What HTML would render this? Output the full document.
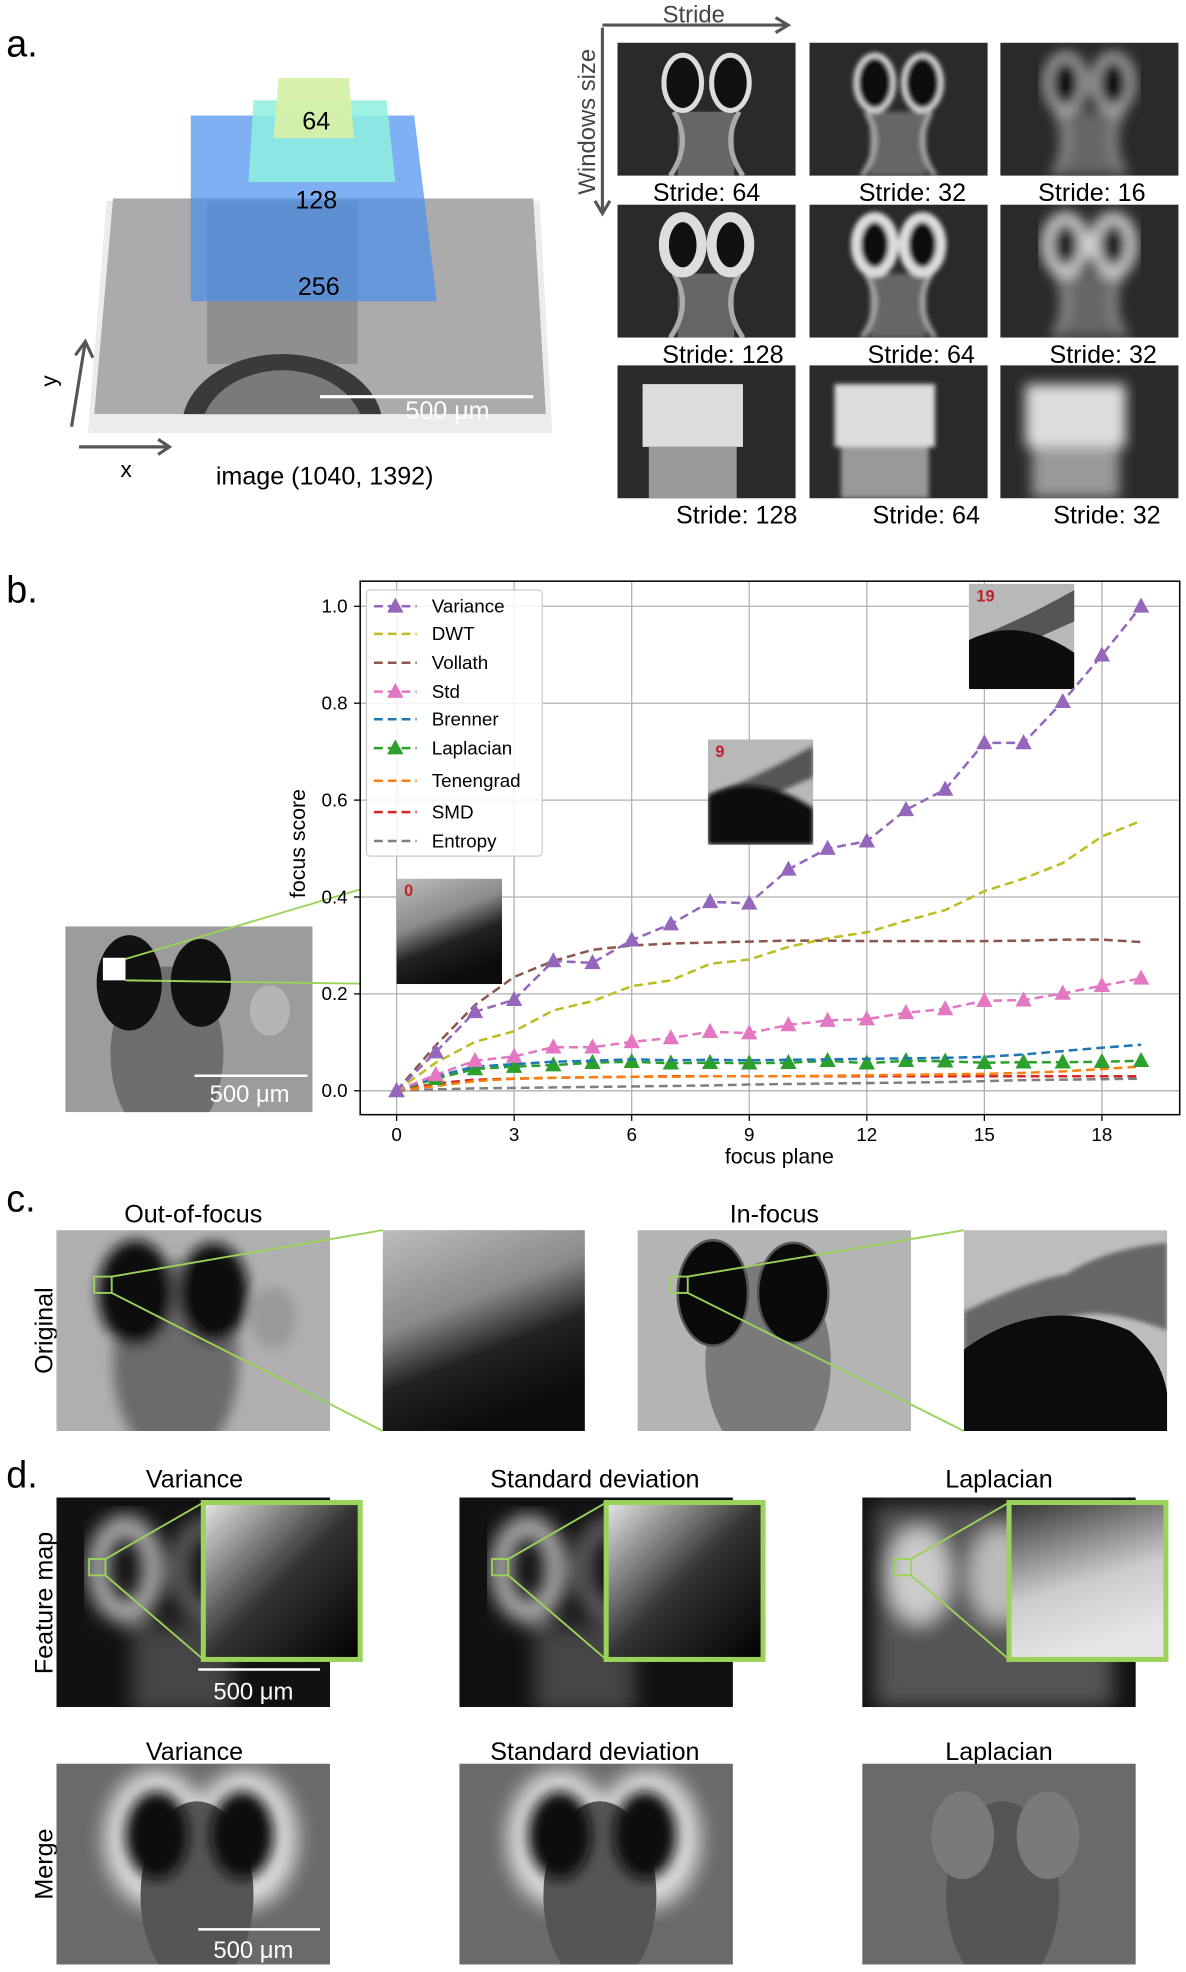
<!DOCTYPE html>
<html><head><meta charset="utf-8">
<style>
html,body{margin:0;padding:0;background:#fff;}
svg{display:block;font-family:"Liberation Sans",sans-serif;}
</style></head>
<body>
<svg id="fig" width="1186" height="1972" viewBox="0 0 945 1571" preserveAspectRatio="none" xmlns="http://www.w3.org/2000/svg">
<defs id="defs">
<filter id="b2"><feGaussianBlur stdDeviation="2"/></filter>
<filter id="b5"><feGaussianBlur stdDeviation="5"/></filter>
<filter id="b8"><feGaussianBlur stdDeviation="8"/></filter>
<linearGradient id="zoomOut" x1="0" y1="0" x2="0.4" y2="1"><stop offset="0" stop-color="#bdbdbd"/><stop offset="0.45" stop-color="#8a8a8a"/><stop offset="0.7" stop-color="#222"/><stop offset="1" stop-color="#0c0c0c"/></linearGradient>
<linearGradient id="pix" x1="0" y1="0" x2="1" y2="1"><stop offset="0" stop-color="#e8e8e8"/><stop offset="0.5" stop-color="#333"/><stop offset="1" stop-color="#000"/></linearGradient>
<linearGradient id="pixL" x1="0" y1="0" x2="0.3" y2="1"><stop offset="0" stop-color="#333"/><stop offset="0.6" stop-color="#ccc"/><stop offset="1" stop-color="#e6e6e6"/></linearGradient>
<clipPath id="cSlab"><polygon points="90,158 425,158 435,330 75,330"/></clipPath>
<clipPath id="cThumb"><rect x="52" y="738" width="197" height="148"/></clipPath>
<clipPath id="cOut"><rect x="45" y="980" width="218" height="160"/></clipPath>
<clipPath id="cIn"><rect x="508" y="980" width="218" height="160"/></clipPath>
<clipPath id="cInZ"><rect x="768" y="980" width="162" height="160"/></clipPath>
</defs>

<!-- ===== Panel a ===== -->
<text x="5" y="45" font-size="30">a.</text>
<g>
<polygon points="85,160 430,160 440,345 70,345" fill="#ececec"/>
<g clip-path="url(#cSlab)">
<polygon points="90,158 425,158 435,330 75,330" fill="#ababab"/>
<rect x="165" y="160" width="120" height="130" fill="#8f8f8f"/>
<ellipse cx="225" cy="340" rx="80" ry="58" fill="#3a3a3a"/>
<ellipse cx="225" cy="345" rx="65" ry="50" fill="#7a7a7a"/>
</g>
<line x1="255" y1="316" x2="425" y2="316" stroke="#fff" stroke-width="2.5"/>
<text x="323" y="334" font-size="20" fill="#fff">500 μm</text>
</g>
<polygon points="152,92 330,92 348,240 152,240" fill="#4a8ef0" opacity="0.7"/>
<polygon points="202,80 308,80 315,145 198,145" fill="#8ef0de" opacity="0.85"/>
<polygon points="222,62 278,62 282,110 218,110" fill="#d6f0a8" opacity="0.95"/>
<text x="252" y="103" font-size="20" text-anchor="middle">64</text>
<text x="252" y="166" font-size="20" text-anchor="middle">128</text>
<text x="254" y="235" font-size="20" text-anchor="middle">256</text>
<g stroke="#555" stroke-width="2.5" fill="none">
<path d="M57,340 L68,272 M60,283 L68,272 L74,285"/>
<path d="M63,356 L135,356 M126,350 L135,356 L126,362"/>
</g>
<text x="32" y="305" font-size="18" transform="rotate(-90 40 300)">y</text>
<text x="96" y="380" font-size="18">x</text>
<text x="172" y="386" font-size="20">image (1040, 1392)</text>

<g stroke="#555" stroke-width="2.5" fill="none">
<path d="M480,22 L480,170 M474,160 L480,170 L486,160"/>
<path d="M480,20 L628,20 M618,14 L628,20 L618,26"/>
</g>
<text x="528" y="18" font-size="19" fill="#444">Stride</text>
<text x="474" y="155" font-size="19" fill="#444" transform="rotate(-90 474 155)">Windows size</text>

<g id="grid9"></g>

<!-- ===== Panel b ===== -->
<text x="5" y="480" font-size="30">b.</text>
<g>
<g clip-path="url(#cThumb)">
<rect x="52" y="738" width="197" height="148" fill="#9c9c9c"/>
<ellipse cx="133" cy="840" rx="45" ry="70" fill="#6e6e6e"/>
<ellipse cx="103" cy="783" rx="26" ry="38" fill="#111"/>
<ellipse cx="160" cy="783" rx="24" ry="35" fill="#111"/>
<ellipse cx="215" cy="805" rx="16" ry="20" fill="#b5b5b5"/>
</g>
<rect x="82" y="763" width="18" height="18" fill="#fff"/>
<line x1="155" y1="857" x2="245" y2="857" stroke="#fff" stroke-width="2"/>
<text x="167" y="878" font-size="19" fill="#fff">500 μm</text>
</g>
<g stroke="#9bd35a" stroke-width="1.5">
<line x1="100" y1="764" x2="316" y2="700"/><line x1="100" y1="781" x2="316" y2="784"/>
</g>
<g id="chart"></g>

<!-- ===== Panel c ===== -->
<text x="5" y="965" font-size="30">c.</text>
<text x="154" y="974" font-size="20" text-anchor="middle">Out-of-focus</text>
<text x="617" y="974" font-size="20" text-anchor="middle">In-focus</text>
<text x="42" y="1060" font-size="20" transform="rotate(-90 42 1060)" text-anchor="middle">Original</text>
<g clip-path="url(#cOut)">
<rect x="45" y="980" width="218" height="160" fill="#b0b0b0"/>
<g filter="url(#b5)"><ellipse cx="140" cy="1085" rx="50" ry="80" fill="#6a6a6a"/>
<ellipse cx="108" cy="1030" rx="30" ry="42" fill="#0e0e0e"/><ellipse cx="170" cy="1030" rx="28" ry="40" fill="#0e0e0e"/>
<ellipse cx="218" cy="1050" rx="18" ry="25" fill="#999"/></g>
</g>
<rect x="305" y="980" width="161" height="160" fill="url(#zoomOut)"/>
<g clip-path="url(#cIn)">
<rect x="508" y="980" width="218" height="160" fill="#b4b4b4"/>
<ellipse cx="612" cy="1085" rx="50" ry="80" fill="#7a7a7a"/>
<ellipse cx="568" cy="1030" rx="28" ry="42" fill="#0a0a0a" stroke="#555" stroke-width="2"/><ellipse cx="632" cy="1030" rx="28" ry="40" fill="#0a0a0a" stroke="#555" stroke-width="2"/>
</g>
<g clip-path="url(#cInZ)">
<rect x="768" y="980" width="162" height="160" fill="#bdbdbd"/>
<path d="M768,1045 Q820,1020 850,1015 Q880,995 930,990 L930,1060 Q880,1040 850,1050 Q800,1060 768,1080Z" fill="#666" filter="url(#b2)"/>
<path d="M768,1140 L768,1075 Q830,1030 900,1060 Q925,1080 930,1110 L930,1140Z" fill="#0c0c0c"/>
</g>
<g fill="none" stroke="#9bd35a" stroke-width="1.5">
<rect x="75" y="1017" width="14" height="13"/><line x1="89" y1="1017" x2="305" y2="980"/><line x1="89" y1="1030" x2="305" y2="1140"/>
<rect x="534" y="1017" width="14" height="13"/><line x1="548" y1="1017" x2="768" y2="980"/><line x1="548" y1="1030" x2="768" y2="1140"/>
</g>

<!-- ===== Panel d ===== -->
<text x="5" y="1185" font-size="30">d.</text>
<g font-size="20" text-anchor="middle">
<text x="155" y="1185">Variance</text><text x="474" y="1185">Standard deviation</text><text x="796" y="1185">Laplacian</text>
<text x="155" y="1402">Variance</text><text x="474" y="1402">Standard deviation</text><text x="796" y="1402">Laplacian</text>
</g>
<text x="42" y="1277" font-size="20" transform="rotate(-90 42 1277)" text-anchor="middle">Feature map</text>
<text x="42" y="1485" font-size="20" transform="rotate(-90 42 1485)" text-anchor="middle">Merge</text>

<g id="fmaps"></g>
<g id="merges"></g>
</svg>

<script>
// ----- Chart data -----
const planes = [0,1,2,3,4,5,6,7,8,9,10,11,12,13,14,15,16,17,18,19];
const variance = [0,0.08,0.163,0.188,0.268,0.264,0.311,0.344,0.39,0.387,0.457,0.5,0.515,0.58,0.622,0.718,0.718,0.803,0.899,1.0];
const dwt = [0,0.058,0.101,0.123,0.166,0.185,0.216,0.228,0.262,0.271,0.297,0.315,0.327,0.351,0.373,0.412,0.438,0.47,0.525,0.557];
const vollath = [0,0.094,0.177,0.235,0.268,0.291,0.3,0.304,0.306,0.308,0.31,0.31,0.309,0.309,0.309,0.309,0.31,0.312,0.312,0.307];
const stdv = [0,0.033,0.062,0.071,0.09,0.09,0.101,0.109,0.122,0.119,0.136,0.145,0.148,0.161,0.169,0.186,0.187,0.201,0.217,0.232];
const brenner = [0,0.03,0.05,0.055,0.06,0.062,0.065,0.063,0.064,0.063,0.064,0.065,0.066,0.067,0.068,0.07,0.075,0.082,0.089,0.095];
const laplacian = [0,0.025,0.045,0.05,0.053,0.058,0.06,0.057,0.058,0.057,0.058,0.062,0.057,0.062,0.061,0.058,0.059,0.059,0.06,0.062];
const tenengrad = [0,0.01,0.02,0.025,0.027,0.028,0.029,0.029,0.03,0.03,0.03,0.031,0.032,0.033,0.034,0.035,0.037,0.04,0.045,0.05];
const smd = [0,0.015,0.023,0.025,0.027,0.028,0.029,0.03,0.03,0.03,0.03,0.03,0.03,0.03,0.03,0.03,0.03,0.03,0.03,0.03];
const entropy = [0,0.003,0.005,0.006,0.007,0.008,0.009,0.01,0.011,0.013,0.014,0.015,0.016,0.017,0.018,0.02,0.022,0.023,0.024,0.025];
const seriesNames = ["Variance","DWT","Vollath","Std","Brenner","Laplacian","Tenengrad","SMD","Entropy"];
const xTicks = [0,3,6,9,12,15,18];
const yTicks = [0,0.2,0.4,0.6,0.8,1.0];
const yTickLabels = ["0.0","0.2","0.4","0.6","0.8","1.0"];

const NS="http://www.w3.org/2000/svg";
function mk(tag,attrs,parent){const e=document.createElementNS(NS,tag);for(const k in attrs)e.setAttribute(k,attrs[k]);parent.appendChild(e);return e;}
const defs=document.getElementById('defs');
let clipN=0;
function clipRect(x,y,w,h){const id='cr'+(clipN++);const c=mk('clipPath',{id:id},defs);mk('rect',{x:x,y:y,width:w,height:h},c);return 'url(#'+id+')';}
const X0=287,X1=940,Y0=463,Y1=888;
function xs(v){return 316+v*(878-316)/18;}
function ys(v){return 869-v*386;}
const chart=document.getElementById('chart');
mk('rect',{x:X0,y:Y0,width:X1-X0,height:Y1-Y0,fill:'#fff'},chart);
xTicks.forEach(t=>{
  const g=mk('line',{x1:xs(t),x2:xs(t),y1:Y0,y2:Y1,stroke:'#b0b0b0','stroke-width':1},chart);
  
  
  mk('line',{x1:xs(t),x2:xs(t),y1:Y1,y2:Y1+5,stroke:'#000'},chart);
  const tx=mk('text',{x:xs(t),y:Y1+21,'font-size':15,'text-anchor':'middle'},chart);tx.textContent=t;
  
  
});
yTicks.forEach((t,i)=>{
  const g=mk('line',{x1:X0,x2:X1,y1:ys(t),y2:ys(t),stroke:'#b0b0b0','stroke-width':1},chart);
  
  
  mk('line',{x1:X0-5,x2:X0,y1:ys(t),y2:ys(t),stroke:'#000'},chart);
  const tx=mk('text',{x:X0-10,y:ys(t)+5,'font-size':15,'text-anchor':'end'},chart);tx.textContent=yTickLabels[i];
  
  
});
const xl=mk('text',{x:621,y:927,'font-size':17,'text-anchor':'middle'},chart);xl.textContent='focus plane';


const yl=mk('text',{x:243,y:672,'font-size':17,'text-anchor':'middle',transform:'rotate(-90 243 672)'},chart);yl.textContent='focus score';



function inset(x,y,label,kind){
  const g=mk('g',{},chart);
  
  
  const gc=mk('g',{'clip-path':clipRect(x,y,84,84)},g);
  if(kind===0){mk('rect',{x:x,y:y,width:84,height:84,fill:'url(#zoomOut)'},gc);}
  else{mk('rect',{x:x,y:y,width:84,height:84,fill:'#b8b8b8'},gc);
   mk('path',{d:`M${x},${y+45} Q${x+40},${y+30} ${x+84},${y+5} L${x+84},${y+30} Q${x+50},${y+45} ${x+30},${y+55}Z`,fill:'#555',filter:kind===1?'url(#b2)':''},gc);
   mk('path',{d:`M${x},${y+84} L${x},${y+45} Q${x+40},${y+25} ${x+84},${y+55} L${x+84},${y+84}Z`,fill:'#0d0d0d',filter:kind===1?'url(#b2)':''},gc);}
  const t=mk('text',{x:x+6,y:y+14,'font-size':13,'font-weight':'bold',fill:'#c0202a'},g);t.textContent=label;
}
inset(316,700,'0',0);inset(564,589,'9',1);inset(772,465,'19',2);

const series=[[variance,'#9467bd',true],[dwt,'#bcbd22',false],[vollath,'#8c564b',false],[stdv,'#e377c2',true],[brenner,'#1f77b4',false],[laplacian,'#2ca02c',true],[tenengrad,'#ff7f0e',false],[smd,'#d62728',false],[entropy,'#7f7f7f',false]];
for(let s=series.length-1;s>=0;s--){
  const [vals,col,markers]=series[s];
  const pts=planes.map((p,i)=>xs(p)+','+ys(vals[i])).join(' ');
  const pl=mk('polyline',{points:pts,fill:'none',stroke:col,'stroke-width':2,'stroke-dasharray':'7,4'},chart);
  
  
  if(markers){planes.forEach((p,i)=>{const cx=xs(p),cy=ys(vals[i]);
    const m=mk('polygon',{points:`${cx},${cy-7} ${cx-6.5},${cy+5} ${cx+6.5},${cy+5}`,fill:col},chart);
    
    });}
}
mk('rect',{x:X0,y:Y0,width:X1-X0,height:Y1-Y0,fill:'none',stroke:'#000','stroke-width':1.2},chart);
const lg=mk('g',{},chart);


mk('rect',{x:292,y:470,width:140,height:212,rx:3,fill:'#fff','fill-opacity':0.85,stroke:'#ccc'},lg);
const legY=[483,505,528,551,573,596,622,647,670];
series.forEach((s,i)=>{
  const y=legY[i];
  mk('line',{x1:298,x2:332,y1:y,y2:y,stroke:s[1],'stroke-width':2,'stroke-dasharray':'7,4'},lg);
  if(s[2])mk('polygon',{points:`315,${y-7} 308.5,${y+5} 321.5,${y+5}`,fill:s[1]},lg);
  const t=mk('text',{x:344,y:y+5,'font-size':15},lg);t.textContent=seriesNames[i];
  
  
});

// ----- feature grid panel a -----
const grid=document.getElementById('grid9');
const cols=[492,645,797], rows=[34,163,291];
const labels=[["Stride: 64","Stride: 32","Stride: 16"],["Stride: 128","Stride: 64","Stride: 32"],["Stride: 128","Stride: 64","Stride: 32"]];
const labX=[[563,727,870],[576,734,879],[587,738,882]];
const labY=[160,289,417];
rows.forEach((ry,r)=>cols.forEach((cx,c)=>{
  const g=mk('g',{'clip-path':clipRect(cx,ry,142,106)},grid);
  
  
  mk('rect',{x:cx,y:ry,width:142,height:106,fill:'#2a2a2a'},g);
  const f=(c===0?'':(c===1?'url(#b2)':'url(#b5)'));
  const gg=mk('g',{filter:f},g);
  if(r<2){
    const sw=r===0?4:8;
    mk('rect',{x:cx+48,y:ry+55,width:45,height:51,fill:'#666'},gg);
    mk('path',{d:`M${cx+45},${ry+55} Q${cx+60},${ry+80} ${cx+42},${ry+106} M${cx+97},${ry+55} Q${cx+82},${ry+80} ${cx+100},${ry+106}`,fill:'none',stroke:'#aaa','stroke-width':4},gg);
    mk('ellipse',{cx:cx+52,cy:ry+32,rx:15,ry:22,fill:'#111',stroke:'#ddd','stroke-width':sw},gg);
    mk('ellipse',{cx:cx+90,cy:ry+32,rx:15,ry:22,fill:'#111',stroke:'#ddd','stroke-width':sw},gg);
  } else {
    mk('rect',{x:cx+20,y:ry+15,width:80,height:50,fill:'#ddd'},gg);
    mk('rect',{x:cx+25,y:ry+65,width:70,height:41,fill:'#999'},gg);
  }
  const t=mk('text',{x:labX[r][c],y:labY[r],'font-size':20,'text-anchor':'middle'},grid);t.textContent=labels[r][c];
}));

// ----- panel d -----
const fm=document.getElementById('fmaps');
const fx=[45,366,687];
const names=['variance','std','laplacian'];
fx.forEach((x,i)=>{
  const g=mk('g',{},fm);
  
  
  const gc=mk('g',{'clip-path':clipRect(x,1193,218,167)},g);
  mk('rect',{x:x,y:1193,width:218,height:167,fill:'#111'},gc);
  const gg=mk('g',{filter:'url(#b8)'},gc);
  if(i<2){
    mk('ellipse',{cx:x+55,cy:1250,rx:22,ry:35,fill:'none',stroke:'#eee','stroke-width':12},gg);
    mk('ellipse',{cx:x+120,cy:1250,rx:22,ry:35,fill:'none',stroke:'#888','stroke-width':10},gg);
    mk('rect',{x:x+60,y:1295,width:80,height:70,fill:'#444'},gg);
  } else {
    mk('rect',{x:x+10,y:1200,width:190,height:160,fill:'#555'},gg);
    mk('ellipse',{cx:x+45,cy:1255,rx:25,ry:38,fill:'#ccc'},gg);
    mk('ellipse',{cx:x+110,cy:1255,rx:25,ry:38,fill:'#bbb'},gg);
  }
  const bx=x+117, by=1197;
  mk('rect',{x:bx,y:by,width:125,height:125,fill:i<2?'url(#pix)':'url(#pixL)',stroke:'#9bd35a','stroke-width':4},g);
  const sx=x+26,sy=1242;
  mk('rect',{x:sx,y:sy,width:13,height:13,fill:'none',stroke:'#9bd35a','stroke-width':1.5},g);
  mk('line',{x1:sx+13,y1:sy,x2:bx,y2:by,stroke:'#9bd35a','stroke-width':1.5},g);
  mk('line',{x1:sx+13,y1:sy+13,x2:bx,y2:by+125,stroke:'#9bd35a','stroke-width':1.5},g);
  if(i===0){mk('line',{x1:x+113,y1:1330,x2:x+210,y2:1330,stroke:'#fff','stroke-width':2},g);
    const t=mk('text',{x:x+125,y:1354,'font-size':19,fill:'#fff'},g);t.textContent='500 μm';}
});
const mg=document.getElementById('merges');
fx.forEach((x,i)=>{
  const g=mk('g',{},mg);
  
  
  const gc=mk('g',{'clip-path':clipRect(x,1405,218,160)},g);
  mk('rect',{x:x,y:1405,width:218,height:160,fill:'#6a6a6a'},gc);
  if(i<2){const gg=mk('g',{filter:'url(#b8)'},gc);
    mk('ellipse',{cx:x+80,cy:1465,rx:42,ry:55,fill:'#ddd'},gg);
    mk('ellipse',{cx:x+150,cy:1465,rx:42,ry:55,fill:'#ddd'},gg);}
  mk('ellipse',{cx:x+112,cy:1510,rx:45,ry:75,fill:'#555'},gc);
  const ec=i<2?'#0d0d0d':'#7a7a7a';
  const ge=mk('g',{filter:i<2?'url(#b5)':''},gc);
  mk('ellipse',{cx:x+80,cy:1462,rx:25,ry:35,fill:ec},ge);
  mk('ellipse',{cx:x+148,cy:1462,rx:25,ry:35,fill:ec},ge);
  if(i===0){mk('line',{x1:x+113,y1:1537,x2:x+210,y2:1537,stroke:'#fff','stroke-width':2},g);
    const t=mk('text',{x:x+125,y:1560,'font-size':19,fill:'#fff'},g);t.textContent='500 μm';}
});
</script>
</body></html>
